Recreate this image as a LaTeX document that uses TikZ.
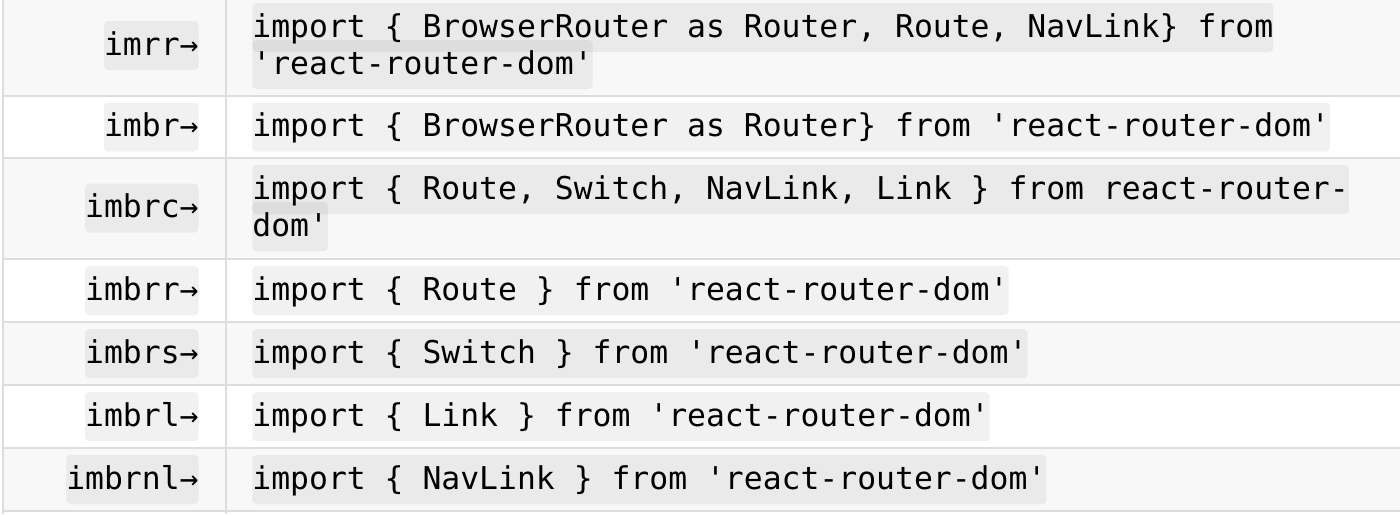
\documentclass[tikz,border=0pt]{standalone}
\usepackage{fontspec}
\setmonofont{DejaVu Sans Mono}
\definecolor{rowgray}{HTML}{F8F8F8}
\definecolor{rulegray}{HTML}{DDDDDD}
\tikzset{
  snip/.style={fill=black, fill opacity=.055, text opacity=1, rounded corners=2pt,
    inner sep=0pt, text height=17pt, text depth=7.5pt,
    font=\ttfamily\fontsize{15.7}{18}\selectfont},
  key/.style={snip, anchor=base east},
  code/.style={snip, anchor=base west}
}
\begin{document}
\begin{tikzpicture}[x=0.5pt,y=-0.5pt]
  \useasboundingbox (0,0) rectangle (1400,514);
  % striped rows
  \fill[rowgray] (2,0) rectangle (1400,96);
  \fill[rowgray] (2,158) rectangle (1400,259);
  \fill[rowgray] (2,322) rectangle (1400,385);
  \fill[rowgray] (2,448) rectangle (1400,511);
  \foreach \y in {96,158,259,322,385,448,511}
    \draw[rulegray, line width=1pt] (2,\y) -- (1400,\y);
  \draw[rulegray, line width=1pt] (2.5,0) -- (2.5,514);
  \draw[rulegray, line width=1pt] (226,0) -- (226,514);

  % snippet keys
  \node[key] (imrr) at (199,55) {imrr→};
  \node[key] (imbr) at (199,136.5) {imbr→};
  \node[key] (imbrc) at (199,217.5) {imbrc→};
  \node[key] (imbrr) at (199,300) {imbrr→};
  \node[key] (imbrs) at (199,363) {imbrs→};
  \node[key] (imbrl) at (199,426) {imbrl→};
  \node[key] (imbrnl) at (199,489) {imbrnl→};

  % what they expand to
  \node[code] (imrrA) at (252,37) {import \{ BrowserRouter as Router, Route, NavLink\} from};
  \node[code] (imrrB) at (252,74) {'react-router-dom'};
  \node[code] (imbrA) at (252,136.5) {import \{ BrowserRouter as Router\} from 'react-router-dom'};
  \node[code] (imbrcA) at (252,199) {import \{ Route, Switch, NavLink, Link \} from react-router-};
  \node[code] (imbrcB) at (252,236) {dom'};
  \node[code] (imbrrA) at (252,300) {import \{ Route \} from 'react-router-dom'};
  \node[code] (imbrsA) at (252,363) {import \{ Switch \} from 'react-router-dom'};
  \node[code] (imbrlA) at (252,426) {import \{ Link \} from 'react-router-dom'};
  \node[code] (imbrnlA) at (252,489) {import \{ NavLink \} from 'react-router-dom'};
\end{tikzpicture}
\end{document}
